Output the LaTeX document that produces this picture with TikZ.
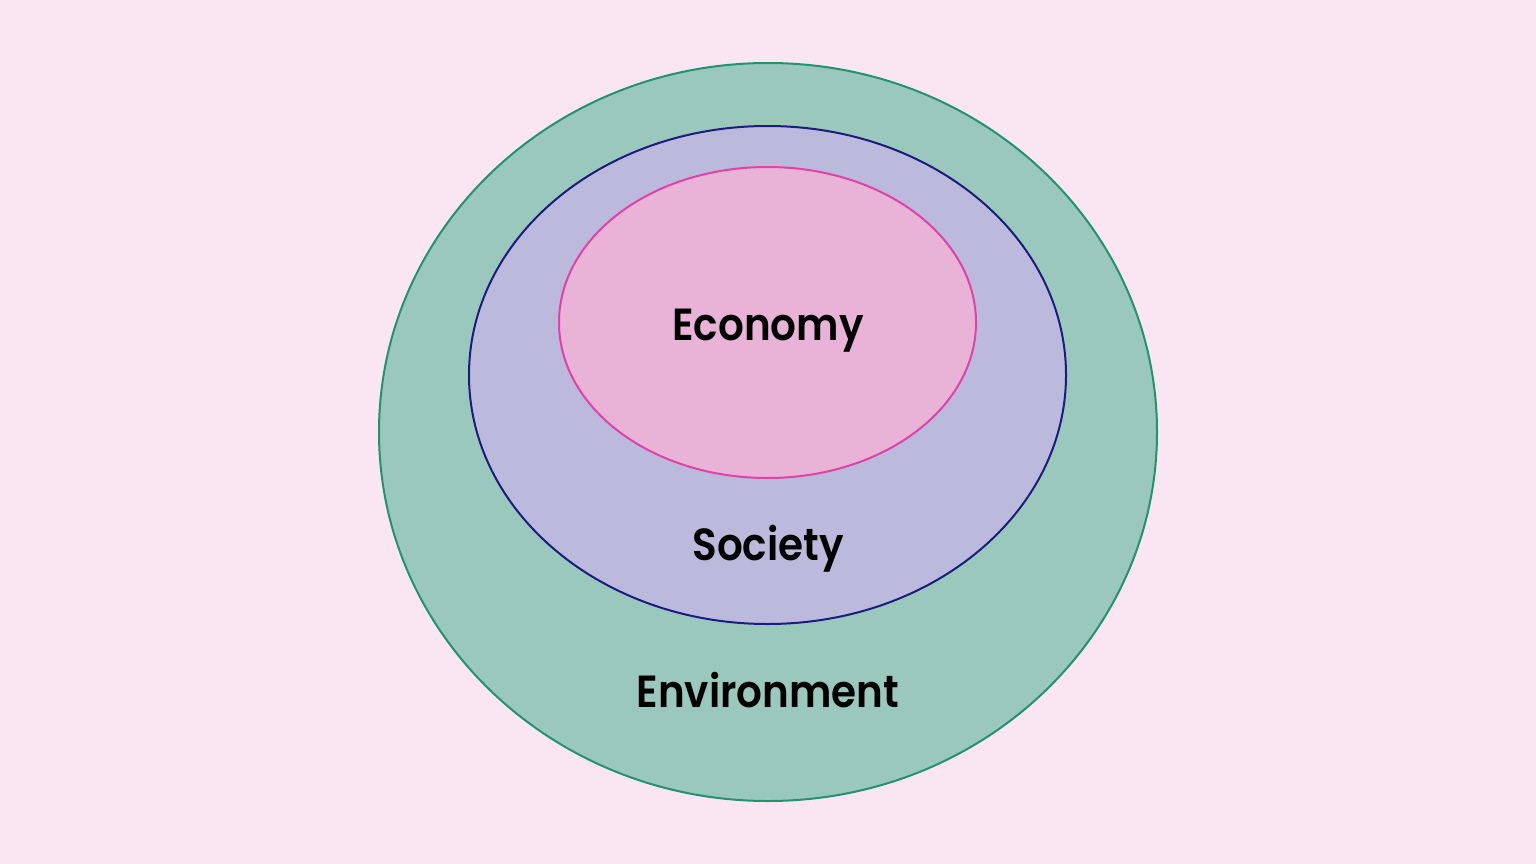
\documentclass[tikz,border=0pt]{standalone}
\usepackage{fontspec}
\setmainfont{Poppins}[BoldFont={* SemiBold}]
\definecolor{bg}{HTML}{FAE6F2}
\definecolor{envfill}{HTML}{9AC8BC}
\definecolor{envline}{HTML}{22936F}
\definecolor{socfill}{HTML}{BCBADC}
\definecolor{socline}{HTML}{1C1C7E}
\definecolor{ecofill}{HTML}{E8B3D6}
\definecolor{ecoline}{HTML}{E042A8}
\newcommand{\narrowtext}[1]{\scalebox{0.9}[1]{#1}}
\begin{document}
\begin{tikzpicture}[x=1pt,y=-1pt,
  lbl/.style={font=\fontsize{45}{50}\selectfont\bfseries, text=black, inner sep=0pt, anchor=base},
  ring/.style={line width=2pt}]
\fill[bg] (0,0) rectangle (1536,864);
\useasboundingbox (0,0) rectangle (1536,864);
\draw[ring, draw=envline, fill=envfill] (768,432) ellipse [x radius=389, y radius=369];
\draw[ring, draw=socline, fill=socfill] (767.5,375) ellipse [x radius=298.5, y radius=249];
\draw[ring, draw=ecoline, fill=ecofill] (767.5,322.5) ellipse [x radius=208.5, y radius=155.5];
\node[lbl] (eco) at (768,340) {\narrowtext{Economy}};
\node[lbl] (soc) at (768,560) {\narrowtext{Society}};
\node[lbl] (env) at (768,707) {\narrowtext{Environment}};
\end{tikzpicture}
\end{document}
